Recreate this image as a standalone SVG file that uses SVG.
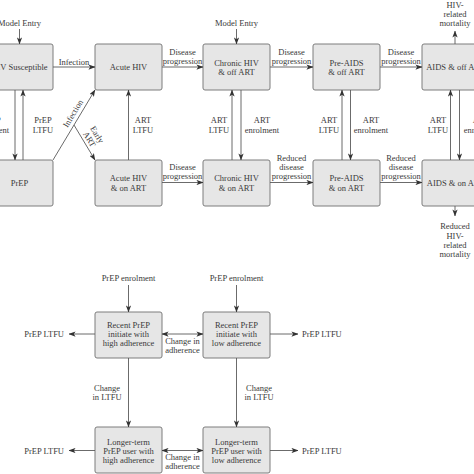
<svg xmlns="http://www.w3.org/2000/svg" width="474" height="474" viewBox="0 0 474 474">
<defs>
<marker id="ah" viewBox="0 0 8 6" refX="7.5" refY="3" markerWidth="7" markerHeight="5.25" markerUnits="userSpaceOnUse" orient="auto-start-reverse">
<path d="M0,0 L8,3 L0,6 L2,3 z" fill="#333"/>
</marker>
<style>
.box{fill:#e6e6e6;stroke:#7d7d7d;stroke-width:1}
text{font-family:"Liberation Serif","DejaVu Serif",serif;font-size:8.5px;fill:#3a3a3a;text-anchor:middle}
.ln{fill:none;stroke:#5a5a5a;stroke-width:0.9}
.e{marker-end:url(#ah)}
.b{marker-start:url(#ah);marker-end:url(#ah)}
.st{text-anchor:start}
.en{text-anchor:end}
</style>
</defs>
<rect width="474" height="474" fill="#fff"/>

<!-- Nodes: upper model -->
<g id="susceptible"><rect class="box" x="-14" y="44" width="67" height="46" rx="2"/><text x="19.5" y="70">HIV Susceptible</text></g>
<g id="acute"><rect class="box" x="95" y="44" width="67" height="46" rx="2"/><text x="128.5" y="70">Acute HIV</text></g>
<g id="chronic_off"><rect class="box" x="203" y="44" width="67" height="46" rx="2"/><text x="236.5" y="65.5">Chronic HIV</text><text x="236.5" y="75">&amp; off ART</text></g>
<g id="preaids_off"><rect class="box" x="313" y="44" width="67" height="46" rx="2"/><text x="346.5" y="65.5">Pre-AIDS</text><text x="346.5" y="75">&amp; off ART</text></g>
<g id="aids_off"><rect class="box" x="422" y="44" width="67" height="46" rx="2"/><text x="455.5" y="70">AIDS &amp; off ART</text></g>

<g id="prep"><rect class="box" x="-14" y="160" width="67" height="46" rx="2"/><text x="19.5" y="186">PrEP</text></g>
<g id="acute_on"><rect class="box" x="95" y="160" width="67" height="46" rx="2"/><text x="128.5" y="181">Acute HIV</text><text x="128.5" y="190.5">&amp; on ART</text></g>
<g id="chronic_on"><rect class="box" x="203" y="160" width="67" height="46" rx="2"/><text x="236.5" y="181">Chronic HIV</text><text x="236.5" y="190.5">&amp; on ART</text></g>
<g id="preaids_on"><rect class="box" x="313" y="160" width="67" height="46" rx="2"/><text x="346.5" y="181">Pre-AIDS</text><text x="346.5" y="190.5">&amp; on ART</text></g>
<g id="aids_on"><rect class="box" x="422" y="160" width="67" height="46" rx="2"/><text x="455.5" y="186">AIDS &amp; on ART</text></g>

<!-- Nodes: PrEP model -->
<g id="recent_high"><rect class="box" x="95" y="312" width="67" height="46" rx="2"/><text x="128.5" y="328">Recent PrEP</text><text x="128.5" y="337">initiate with</text><text x="128.5" y="346">high adherence</text></g>
<g id="recent_low"><rect class="box" x="203" y="312" width="67" height="46" rx="2"/><text x="236.5" y="328">Recent PrEP</text><text x="236.5" y="337">initiate with</text><text x="236.5" y="346">low adherence</text></g>
<g id="long_high"><rect class="box" x="95" y="427" width="67" height="46" rx="2"/><text x="128.5" y="445">Longer-term</text><text x="128.5" y="454">PrEP user with</text><text x="128.5" y="463">high adherence</text></g>
<g id="long_low"><rect class="box" x="203" y="427" width="67" height="46" rx="2"/><text x="236.5" y="445">Longer-term</text><text x="236.5" y="454">PrEP user with</text><text x="236.5" y="463">low adherence</text></g>

<!-- Connectors -->
<g id="connectors">
<!-- model entry -->
<text x="19.5" y="26">Model Entry</text>
<line class="ln e" x1="19.5" y1="29" x2="19.5" y2="44"/>
<text x="236.5" y="26">Model Entry</text>
<line class="ln e" x1="236.5" y1="29" x2="236.5" y2="44"/>

<!-- top horizontal -->
<line class="ln e" x1="53" y1="67" x2="95" y2="67"/>
<text x="74" y="64.5">Infection</text>
<line class="ln e" x1="162" y1="67" x2="203" y2="67"/>
<text x="182.5" y="55">Disease</text><text x="182.5" y="63.5">progression</text>
<line class="ln e" x1="270" y1="67" x2="313" y2="67"/>
<text x="291.5" y="55">Disease</text><text x="291.5" y="63.5">progression</text>
<line class="ln e" x1="380" y1="67" x2="422" y2="67"/>
<text x="401" y="55">Disease</text><text x="401" y="63.5">progression</text>

<!-- top mortality -->
<line class="ln e" x1="455" y1="44" x2="455" y2="31"/>
<text x="455" y="7.5">HIV-</text><text x="455" y="17">related</text><text x="455" y="25.5">mortality</text>

<!-- bottom horizontal -->
<line class="ln e" x1="162" y1="182.5" x2="203" y2="182.5"/>
<text x="182.5" y="170">Disease</text><text x="182.5" y="179">progression</text>
<line class="ln e" x1="270" y1="182.5" x2="313" y2="182.5"/>
<text x="291.5" y="161">Reduced</text><text x="291.5" y="170">disease</text><text x="291.5" y="179">progression</text>
<line class="ln e" x1="380" y1="182.5" x2="422" y2="182.5"/>
<text x="401" y="161">Reduced</text><text x="401" y="170">disease</text><text x="401" y="179">progression</text>

<!-- bottom mortality -->
<line class="ln e" x1="455" y1="206" x2="455" y2="216"/>
<text x="455" y="229">Reduced</text><text x="455" y="238.5">HIV-</text><text x="455" y="248">related</text><text x="455" y="256.5">mortality</text>

<!-- verticals -->
<line class="ln e" x1="15" y1="90" x2="15" y2="160"/>
<line class="ln e" x1="23" y1="160" x2="23" y2="90"/>
<text x="-8" y="123">PrEP</text><text x="-8" y="133">enrolment</text>
<text x="43" y="123">PrEP</text><text x="43" y="133">LTFU</text>

<line class="ln e" x1="128.5" y1="160" x2="128.5" y2="90"/>
<text x="143" y="123">ART</text><text x="143" y="133">LTFU</text>

<line class="ln e" x1="232" y1="160" x2="232" y2="90"/>
<line class="ln e" x1="241" y1="90" x2="241" y2="160"/>
<text x="219" y="123">ART</text><text x="219" y="133">LTFU</text>
<text x="262" y="123">ART</text><text x="262" y="133">enrolment</text>

<line class="ln e" x1="342" y1="160" x2="342" y2="90"/>
<line class="ln e" x1="350.5" y1="90" x2="350.5" y2="160"/>
<text x="329" y="123">ART</text><text x="329" y="133">LTFU</text>
<text x="371" y="123">ART</text><text x="371" y="133">enrolment</text>

<line class="ln e" x1="450.5" y1="160" x2="450.5" y2="90"/>
<line class="ln e" x1="459.5" y1="90" x2="459.5" y2="160"/>
<text x="438" y="123">ART</text><text x="438" y="133">LTFU</text>
<text x="481" y="123">ART</text><text x="481" y="133">enrolment</text>

<!-- diagonals -->
<line class="ln e" x1="53" y1="160" x2="95" y2="90"/>
<text transform="translate(78.9,117) rotate(-59)" x="0" y="-4">Infection</text>
<line class="ln e" x1="74" y1="125" x2="95" y2="160"/>
<g transform="translate(84.4,142.3) rotate(59)"><text x="0" y="-12">Early</text><text x="0" y="-3">ART</text></g>

<!-- PrEP model -->
<text x="128.5" y="281">PrEP enrolment</text>
<line class="ln e" x1="128.5" y1="285" x2="128.5" y2="312"/>
<text x="236.5" y="281">PrEP enrolment</text>
<line class="ln e" x1="236.5" y1="285" x2="236.5" y2="312"/>

<line class="ln b" x1="162" y1="334" x2="203" y2="334"/>
<text x="182.5" y="344">Change in</text><text x="182.5" y="353">adherence</text>
<line class="ln e" x1="95" y1="334" x2="69" y2="334"/>
<text class="en" x="64" y="337">PrEP LTFU</text>
<line class="ln e" x1="270" y1="334" x2="298" y2="334"/>
<text class="st" x="302" y="337">PrEP LTFU</text>

<line class="ln e" x1="128.5" y1="358" x2="128.5" y2="427"/>
<text x="107" y="391">Change</text><text x="107" y="400">in LTFU</text>
<line class="ln e" x1="236.5" y1="358" x2="236.5" y2="427"/>
<text x="259" y="391">Change</text><text x="259" y="400">in LTFU</text>

<line class="ln b" x1="162" y1="450.5" x2="203" y2="450.5"/>
<text x="182.5" y="460">Change in</text><text x="182.5" y="469">adherence</text>
<line class="ln e" x1="95" y1="450.5" x2="69" y2="450.5"/>
<text class="en" x="64" y="453.5">PrEP LTFU</text>
<line class="ln e" x1="270" y1="450.5" x2="298" y2="450.5"/>
<text class="st" x="302" y="453.5">PrEP LTFU</text>
</g>
</svg>
